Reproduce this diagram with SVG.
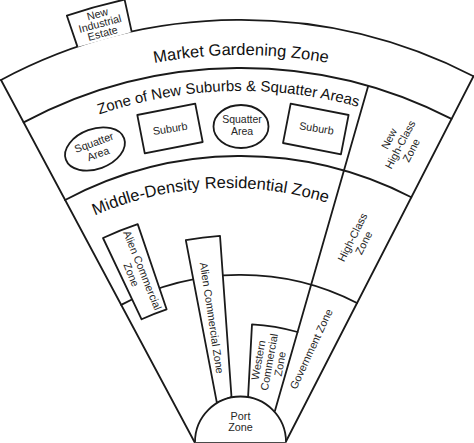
<svg xmlns="http://www.w3.org/2000/svg" width="474" height="443" viewBox="0 0 474 443">
<style>
.ln{fill:none;stroke:#1a1a1a;stroke-width:1.8;stroke-linejoin:round;stroke-linecap:round}
.bx{fill:#fff;stroke:#1a1a1a;stroke-width:1.8;stroke-linejoin:round}
.t{font-family:"Liberation Sans",Arial,sans-serif;font-size:10.8px;fill:#262626;text-anchor:middle}
.big{font-family:"Liberation Sans",Arial,sans-serif;font-size:16.5px;fill:#111;text-anchor:middle}
</style>
<defs>
<path id="pMarket" d="M4,118.5 A474,474 0 0 1 478,118.5"/>
<path id="pSuburbs" d="M10.8,156.3 A438,438 0 0 1 448.7,143.3"/>
<path id="pMiddle" d="M44.6,242.4 A336,336 0 0 1 380.2,224.4"/>
</defs>
<rect width="474" height="443" fill="#fff"/>
<g id="connectors">
<line class="ln" x1="1" y1="80" x2="194.5" y2="442"/>
<line class="ln" x1="473.5" y1="76.2" x2="285.7" y2="442"/>
<path class="ln" d="M1,80 A509,509 0 0 1 473.5,76.2"/>
<path class="ln" d="M23.6,122.4 A461,461 0 0 1 451.5,118.9"/>
<path class="ln" d="M65.1,200 A373,373 0 0 1 411.3,197.2"/>
<path class="ln" d="M121.2,304.9 A254,254 0 0 1 357,303"/>
<line class="ln" x1="368.2" y1="85.9" x2="274.9" y2="410.9"/>
<path class="ln" d="M248.1,396.6 L252,324.3 A205,205 0 0 1 297.6,332"/>
<line x1="195" y1="442" x2="286" y2="442" stroke="#4a4a4a" stroke-width="2.6"/>
</g>
<g id="new-industrial-estate">
<path class="bx" d="M77.5,46.9 L66.9,15.7 A542,542 0 0 1 124.6,-0.4 L131.7,31.9"/>
<text class="t" transform="translate(100,23.5) rotate(-15)"><tspan x="0" y="-6.1">New</tspan><tspan x="0" y="3.9">Industrial</tspan><tspan x="0" y="13.9">Estate</tspan></text>
</g>
<g id="market-gardening-zone">
<text class="big"><textPath href="#pMarket" startOffset="50%">Market Gardening Zone</textPath></text>
</g>
<g id="zone-new-suburbs">
<text class="big" style="font-size:15px"><textPath href="#pSuburbs" startOffset="50%">Zone of New Suburbs &amp; Squatter Areas</textPath></text>
</g>
<g id="squatter-area-1">
<ellipse class="bx" cx="0" cy="0" rx="31" ry="20" transform="translate(95,149) rotate(-20)"/>
<text class="t" transform="translate(96,148) rotate(-20)"><tspan x="0" y="-2.1">Squatter</tspan><tspan x="0" y="9.9">Area</tspan></text>
</g>
<g id="suburb-1">
<rect class="bx" x="-29.5" y="-19.5" width="59" height="39" transform="translate(170,128.5) rotate(-11)"/>
<text class="t" transform="translate(170,128.5) rotate(-9)" y="3.9">Suburb</text>
</g>
<g id="squatter-area-2">
<ellipse class="bx" cx="241" cy="126.5" rx="27.5" ry="21.5"/>
<text class="t" style="font-size:10.5px" transform="translate(242,125)"><tspan x="0" y="-2.3">Squatter</tspan><tspan x="0" y="9.7">Area</tspan></text>
</g>
<g id="suburb-2">
<rect class="bx" x="-29.5" y="-20" width="59" height="40" transform="translate(315.8,129) rotate(11)"/>
<text class="t" transform="translate(316.5,128) rotate(9)" y="3.9">Suburb</text>
</g>
<g id="new-high-class-zone">
<text class="t" transform="translate(400,144.5) rotate(-62.5)"><tspan x="0" y="-8.6">New</tspan><tspan x="0" y="3.9">High-Class</tspan><tspan x="0" y="16.4">Zone</tspan></text>
</g>
<g id="middle-density-zone">
<text class="big"><textPath href="#pMiddle" startOffset="50%">Middle-Density Residential Zone</textPath></text>
</g>
<g id="high-class-zone">
<text class="t" transform="translate(358,240) rotate(-63.5)"><tspan x="0" y="-2.35">High-Class</tspan><tspan x="0" y="10.15">Zone</tspan></text>
</g>
<g id="alien-commercial-zone-1">
<path class="bx" d="M141.6,319.3 L103,238 A322,322 0 0 1 137.7,224.1 L166.6,309.3 A232,232 0 0 0 141.6,319.3 Z"/>
<text class="t" transform="translate(137,272.5) rotate(68)"><tspan x="0" y="-2.1">Alien Commercial</tspan><tspan x="0" y="9.9">Zone</tspan></text>
</g>
<g id="alien-commercial-zone-2">
<path class="bx" d="M216.9,402.8 L185.8,240.2 A294,294 0 0 1 220,235.8 L231.5,397 Z"/>
<text class="t" transform="translate(212,318) rotate(81.5)" y="3.9">Alien Commercial Zone</text>
</g>
<g id="western-commercial-zone">
<text class="t" transform="translate(269,362) rotate(-80)"><tspan x="0" y="-7.1">Western</tspan><tspan x="0" y="3.9">Commercial</tspan><tspan x="0" y="14.9">Zone</tspan></text>
</g>
<g id="government-zone">
<text class="t" transform="translate(311,349) rotate(-65)" y="3.9">Government Zone</text>
</g>
<g id="port-zone">
<path class="bx" d="M195,442 A45.5,45.5 0 0 1 286,442"/>
<text class="t"><tspan x="240.5" y="419.7">Port</tspan><tspan x="240.5" y="431.4">Zone</tspan></text>
</g>
</svg>
